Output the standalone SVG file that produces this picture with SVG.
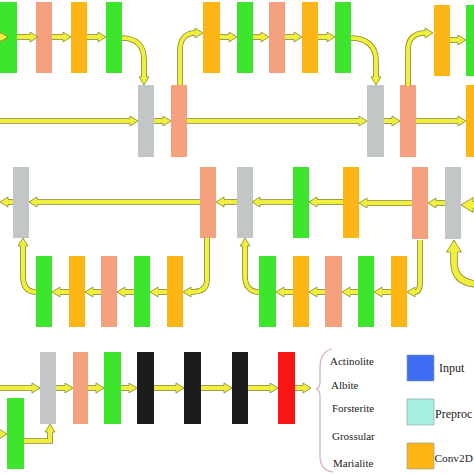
<svg xmlns="http://www.w3.org/2000/svg" xmlns:xlink="http://www.w3.org/1999/xlink" width="474" height="474" viewBox="0 0 474 474">
<style>
.g{fill:#3de62c}.s{fill:#f5a17f}.y{fill:#fdb515}.k{fill:#c2c6c6}.b{fill:#1c1c1c}.r{fill:#fb1414}
.o{fill:none;stroke:#85852a;stroke-width:5.6;marker-end:url(#h)}
.O{fill:none;stroke:#85852a;stroke-width:7.4;marker-end:url(#H)}
.f{fill:none;stroke:#f0f03c;stroke-width:4}
.F{fill:none;stroke:#f0f03c;stroke-width:5.8}
.t{font-family:"Liberation Serif","Times New Roman",serif;font-size:11px;fill:#222}
.L{font-family:"Liberation Serif","Times New Roman",serif;font-size:12px;fill:#222}
.lg{stroke:#8a9aa8;stroke-width:0.6}
</style>
<defs>
<marker id="h" markerUnits="userSpaceOnUse" markerWidth="12" markerHeight="12" refX="0" refY="5" orient="auto" overflow="visible">
<path d="M0,2.2 L0,0 L8,5 L0,10 L0,7.8" fill="#f0f03c" stroke="#85852a" stroke-width="0.8"/>
</marker>
<marker id="H" markerUnits="userSpaceOnUse" markerWidth="16" markerHeight="18" refX="0" refY="7.5" orient="auto" overflow="visible">
<path d="M0,3.8 L0,0 L12,7.5 L0,15 L0,11.2" fill="#f0f03c" stroke="#85852a" stroke-width="0.8"/>
</marker>
<path id="a1" d="M-6,37 L0,37"/>
<path id="a2" d="M17,37 L30,37"/>
<path id="a3" d="M52,37 L63,37"/>
<path id="a4" d="M87,37 L98,37"/>
<path id="a5" d="M122,38 C137,38 144,46 144,60 L144,77"/>
<path id="a6" d="M220,37 L229,37"/>
<path id="a7" d="M253,37 L261,37"/>
<path id="a8" d="M285,37 L294,37"/>
<path id="a9" d="M318,37 L327,37"/>
<path id="a10" d="M351,38 C366,38 376,46 376,60 L376,77"/>
<path id="a11" d="M450,40 L458,40"/>
<path id="b1" d="M-6,121 L130,121"/>
<path id="b2" d="M154,121 L163,121"/>
<path id="b3" d="M187,121 L359,121"/>
<path id="b4" d="M384,121 L392,121"/>
<path id="b5" d="M416,121 L458,121"/>
<path id="b6" d="M180,85 L180,50 C180,40 185,33 195,33"/>
<path id="b7" d="M408,86 L408,50 C408,40 413,33 425,33"/>
<path id="c1" d="M13,202 L8,202"/>
<path id="c2" d="M200,202 L37,202"/>
<path id="c3" d="M237,202 L224,202"/>
<path id="c4" d="M293,202 L260,202"/>
<path id="c5" d="M343,202 L317,202"/>
<path id="c6" d="M412,203 L367,203"/>
<path id="c7" d="M445,203 L436,203"/>
<path id="c8" d="M480,205 L473,205"/>
<path id="c9" d="M207,238 L207,280 Q207,292 191,292"/>
<path id="c10" d="M36,292 C27,292 23,286 23,276 L23,246"/>
<path id="c11" d="M420,240 L420,282 Q420,292 415,292"/>
<path id="c12" d="M259,292 C250,292 245,286 245,276 L245,246"/>
<path id="c13" d="M480,284 C462,284 454,276 454,262 L454,252"/>
<path id="d1" d="M167,292 L158,292"/>
<path id="d2" d="M134,292 L125,292"/>
<path id="d3" d="M101,292 L93,292"/>
<path id="d4" d="M69,292 L60,292"/>
<path id="d5" d="M391,292 L382,292"/>
<path id="d6" d="M358,292 L350,292"/>
<path id="d7" d="M325,292 L317,292"/>
<path id="d8" d="M293,292 L284,292"/>
<path id="e1" d="M-6,388 L32,388"/>
<path id="e2" d="M56,388 L65,388"/>
<path id="e3" d="M88,388 L96,388"/>
<path id="e4" d="M121,388 L129,388"/>
<path id="e5" d="M154,388 L176,388"/>
<path id="e6" d="M201,388 L224,388"/>
<path id="e7" d="M248,388 L270,388"/>
<path id="e8" d="M295,388 L303,388"/>
<path id="e9" d="M-6,434 L-1,434"/>
<path id="e10" d="M24,441 L50,441 L50,432"/>
</defs>
<rect width="474" height="474" fill="#fff"/>
<g id="nodes">
<g id="r1"><rect id="n1" class="g" x="0" y="2" width="17" height="71"/><rect id="n2" class="s" x="36" y="2" width="16" height="71"/><rect id="n3" class="y" x="71" y="2" width="16" height="71"/><rect id="n4" class="g" x="106" y="2" width="16" height="71"/><rect id="n5" class="y" x="203" y="2" width="17" height="71"/><rect id="n6" class="g" x="237" y="2" width="16" height="71"/><rect id="n7" class="s" x="269" y="2" width="16" height="71"/><rect id="n8" class="y" x="302" y="2" width="16" height="71"/><rect id="n9" class="g" x="335" y="2" width="16" height="71"/><rect id="n10" class="y" x="434" y="5" width="16" height="71"/><rect id="n11" class="g" x="466" y="5" width="16" height="71"/></g>
<g id="r1b"><rect id="n12" class="k" x="138" y="85" width="16" height="72"/><rect id="n13" class="s" x="171" y="85" width="16" height="72"/><rect id="n14" class="k" x="367" y="85" width="17" height="72"/><rect id="n15" class="s" x="400" y="85" width="16" height="72"/><rect id="n16" class="y" x="466" y="85" width="16" height="72"/></g>
<g id="r2"><rect id="n17" class="k" x="13" y="167" width="16" height="71"/><rect id="n18" class="s" x="200" y="167" width="16" height="71"/><rect id="n19" class="k" x="237" y="167" width="16" height="71"/><rect id="n20" class="g" x="293" y="167" width="16" height="71"/><rect id="n21" class="y" x="343" y="167" width="16" height="71"/><rect id="n22" class="s" x="412" y="167" width="16" height="72"/><rect id="n23" class="k" x="445" y="167" width="16" height="72"/></g>
<g id="r2b"><rect id="n24" class="g" x="36" y="256" width="16" height="71"/><rect id="n25" class="y" x="69" y="256" width="16" height="71"/><rect id="n26" class="s" x="101" y="256" width="16" height="71"/><rect id="n27" class="g" x="134" y="256" width="16" height="71"/><rect id="n28" class="y" x="167" y="256" width="16" height="71"/><rect id="n29" class="g" x="259" y="256" width="17" height="71"/><rect id="n30" class="y" x="293" y="256" width="16" height="71"/><rect id="n31" class="s" x="325" y="256" width="17" height="71"/><rect id="n32" class="g" x="358" y="256" width="16" height="71"/><rect id="n33" class="y" x="391" y="256" width="16" height="71"/></g>
<g id="r3"><rect id="n34" class="k" x="40" y="352" width="16" height="72"/><rect id="n35" class="s" x="73" y="352" width="15" height="72"/><rect id="n36" class="g" x="104" y="352" width="17" height="72"/><rect id="n37" class="b" x="137" y="352" width="17" height="72"/><rect id="n38" class="b" x="184" y="352" width="17" height="72"/><rect id="n39" class="b" x="232" y="352" width="16" height="72"/><rect id="n40" class="r" x="278" y="352" width="17" height="72"/><rect id="n41" class="g" x="7" y="398" width="17" height="71"/></g>
</g>
<g id="connectors">
<g class="o"><use xlink:href="#a1"/><use xlink:href="#a2"/><use xlink:href="#a3"/><use xlink:href="#a4"/><use xlink:href="#a5"/><use xlink:href="#a6"/><use xlink:href="#a7"/><use xlink:href="#a8"/><use xlink:href="#a9"/><use xlink:href="#a10"/><use xlink:href="#a11"/><use xlink:href="#b1"/><use xlink:href="#b2"/><use xlink:href="#b3"/><use xlink:href="#b4"/><use xlink:href="#b5"/><use xlink:href="#b6"/><use xlink:href="#b7"/><use xlink:href="#c1"/><use xlink:href="#c2"/><use xlink:href="#c3"/><use xlink:href="#c4"/><use xlink:href="#c5"/><use xlink:href="#c6"/><use xlink:href="#c7"/><use xlink:href="#c9"/><use xlink:href="#c10"/><use xlink:href="#c11"/><use xlink:href="#c12"/><use xlink:href="#d1"/><use xlink:href="#d2"/><use xlink:href="#d3"/><use xlink:href="#d4"/><use xlink:href="#d5"/><use xlink:href="#d6"/><use xlink:href="#d7"/><use xlink:href="#d8"/><use xlink:href="#e1"/><use xlink:href="#e2"/><use xlink:href="#e3"/><use xlink:href="#e4"/><use xlink:href="#e5"/><use xlink:href="#e6"/><use xlink:href="#e7"/><use xlink:href="#e8"/><use xlink:href="#e9"/><use xlink:href="#e10"/></g>
<g class="O"><use xlink:href="#c8"/><use xlink:href="#c13"/></g>
<g class="f"><use xlink:href="#a1"/><use xlink:href="#a2"/><use xlink:href="#a3"/><use xlink:href="#a4"/><use xlink:href="#a5"/><use xlink:href="#a6"/><use xlink:href="#a7"/><use xlink:href="#a8"/><use xlink:href="#a9"/><use xlink:href="#a10"/><use xlink:href="#a11"/><use xlink:href="#b1"/><use xlink:href="#b2"/><use xlink:href="#b3"/><use xlink:href="#b4"/><use xlink:href="#b5"/><use xlink:href="#b6"/><use xlink:href="#b7"/><use xlink:href="#c1"/><use xlink:href="#c2"/><use xlink:href="#c3"/><use xlink:href="#c4"/><use xlink:href="#c5"/><use xlink:href="#c6"/><use xlink:href="#c7"/><use xlink:href="#c9"/><use xlink:href="#c10"/><use xlink:href="#c11"/><use xlink:href="#c12"/><use xlink:href="#d1"/><use xlink:href="#d2"/><use xlink:href="#d3"/><use xlink:href="#d4"/><use xlink:href="#d5"/><use xlink:href="#d6"/><use xlink:href="#d7"/><use xlink:href="#d8"/><use xlink:href="#e1"/><use xlink:href="#e2"/><use xlink:href="#e3"/><use xlink:href="#e4"/><use xlink:href="#e5"/><use xlink:href="#e6"/><use xlink:href="#e7"/><use xlink:href="#e8"/><use xlink:href="#e9"/><use xlink:href="#e10"/></g>
<g class="F"><use xlink:href="#c8"/><use xlink:href="#c13"/></g>
</g>
<g id="output">
<path d="M332,349 C323,351 320,358 320,368 L320,382 Q320,388 316,389 Q320,390 320,396 L320,456 C320,466 324,471 333,472" fill="none" stroke="#d9a8c0" stroke-width="1.2"/>
<text class="t" x="330" y="365">Actinolite</text>
<text class="t" x="331" y="389">Albite</text>
<text class="t" x="332" y="412">Forsterite</text>
<text class="t" x="332" y="440">Grossular</text>
<text class="t" x="333" y="467">Marialite</text>
</g>
<g id="legend">
<g id="lg-input"><rect class="lg" x="407" y="355" width="27" height="26" fill="#3f6ef5"/><text class="L" x="439" y="372">Input</text></g>
<g id="lg-pre"><rect class="lg" x="407" y="399" width="27" height="26" fill="#a6f0e2"/><text class="L" x="435" y="418">Preproc</text></g>
<g id="lg-conv"><rect class="lg" x="407" y="443" width="27" height="26" fill="#fdb515"/><text class="L" x="434.5" y="462" style="font-size:11.3px">Conv2D</text></g>
</g>
</svg>
